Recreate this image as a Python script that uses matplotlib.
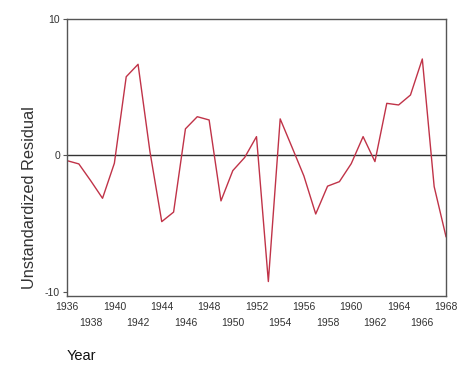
import matplotlib
matplotlib.use("Agg")
import matplotlib.pyplot as plt

years = list(range(1936, 1969))
residuals = [-0.38, -0.62, -1.85, -3.14, -0.57, 5.77, 6.68, 0.3, -4.85, -4.15,
             1.95, 2.84, 2.6, -3.33, -1.11, -0.15, 1.38, -9.24, 2.68, 0.6,
             -1.5, -4.29, -2.25, -1.92, -0.6, 1.38, -0.45, 3.82, 3.7, 4.43,
             7.07, -2.28, -5.95]
row1_ticks = list(range(1936, 1969, 4))
row2_ticks = list(range(1938, 1967, 4))
y_ticks = [-10, 0, 10]

plt.rcParams['font.family'] = ['Liberation Sans', 'DejaVu Sans']

fig = plt.figure(figsize=(4.74, 3.72), dpi=100)
ax = fig.add_axes([67/474, 1-296/372, 379/474, 277/372])

ax.axhline(0, color='#333333', lw=1.0, zorder=1)
ax.plot(years, residuals, color='#c03348', lw=1.0, zorder=2)

ax.set_xlim(1936, 1968)
ax.set_ylim(-10.3, 10)

ax.set_yticks(y_ticks)
ax.set_yticklabels([str(v) for v in y_ticks])
ax.tick_params(axis='y', length=3, width=0.8, color='#555555', pad=2,
               labelsize=7.5, labelcolor='#333333')

ax.set_xticks(row1_ticks)
ax.set_xticklabels([str(v) for v in row1_ticks])
ax.set_xticks(row2_ticks, minor=True)
ax.set_xticklabels([str(v) for v in row2_ticks], minor=True)
ax.tick_params(axis='x', which='major', length=0, pad=4,
               labelsize=7.5, labelcolor='#333333')
ax.tick_params(axis='x', which='minor', length=0, pad=16,
               labelsize=7.5, labelcolor='#333333')

for s in ax.spines.values():
    s.set_color('#555555')
    s.set_linewidth(1.0)

fig.text(30/474, 1-198/372, 'Unstandardized Residual', rotation=90,
         ha='center', va='center', fontsize=11.8, color='#333333')
fig.text(67/474, 1-356/372, 'Year', ha='left', va='center',
         fontsize=10.5, color='#111111')

fig.savefig('out.png', dpi=100)
